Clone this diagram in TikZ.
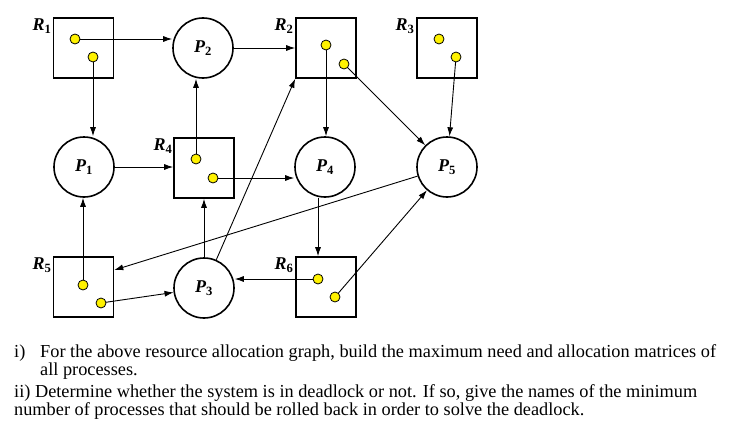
\documentclass[tikz,border=0pt]{standalone}
\usepackage{fontspec}
\setmainfont{Liberation Serif}
\usetikzlibrary{arrows.meta,backgrounds}
\begin{document}
\begin{tikzpicture}[x=1pt,y=-1pt,
 res/.style={draw,line width=1.6pt,minimum size=60pt,inner sep=0pt},
 proc/.style={draw,circle,line width=1.6pt,minimum size=60pt,inner sep=0pt,font=\fontsize{18}{18}\selectfont\bfseries\itshape},
 dot/.style={draw,circle,fill=yellow,minimum size=10pt,inner sep=0pt,line width=0.8pt},
 lab/.style={font=\fontsize{18}{18}\selectfont\bfseries\itshape,inner sep=0pt},
 e/.style={-{Latex[length=9pt,width=6pt]},line width=0.9pt},
 txt/.style={anchor=base west,inner sep=0pt,font=\fontsize{18.3}{18}\selectfont}]
\useasboundingbox (0,0) rectangle (729,439);
\node[res] (R1) at (83.5,48) {};
\node[res] (R2) at (326,48) {};
\node[res] (R3) at (447,48) {};
\node[res] (R4) at (204,168) {};
\node[res] (R5) at (83.5,287) {};
\node[res] (R6) at (326,287) {};
\node[proc] (P1) at (84,167) {P\textsubscript{\upshape 1}};
\node[proc] (P2) at (203,48) {P\textsubscript{\upshape 2}};
\node[proc] (P3) at (204,288) {P\textsubscript{\upshape 3}};
\node[proc] (P4) at (325,167) {P\textsubscript{\upshape 4}};
\node[proc] (P5) at (447,167) {P\textsubscript{\upshape 5}};
\node[lab] (L1) at (42,26) {R\textsubscript{\upshape 1}};
\node[lab] (L2) at (284,26) {R\textsubscript{\upshape 2}};
\node[lab] (L3) at (405,26) {R\textsubscript{\upshape 3}};
\node[lab] (L4) at (163,146) {R\textsubscript{\upshape 4}};
\node[lab] (L5) at (42,265) {R\textsubscript{\upshape 5}};
\node[lab] (L6) at (284,265) {R\textsubscript{\upshape 6}};
\node[dot] (d1a) at (75,39) {};
\node[dot] (d1b) at (93,57) {};
\node[dot] (d2a) at (326,45) {};
\node[dot] (d2b) at (344,64) {};
\node[dot] (d3a) at (439,39) {};
\node[dot] (d3b) at (456,57) {};
\node[dot] (d4a) at (196,159) {};
\node[dot] (d4b) at (213,178) {};
\node[dot] (d5a) at (83,285) {};
\node[dot] (d5b) at (101,303) {};
\node[dot] (d6a) at (318,279) {};
\node[dot] (d6b) at (335,297) {};
\begin{scope}[on background layer]
\draw[e] (d1a.center) -- (d1a.center -| P2.west);
\draw[e] (d1b.center) -- (d1b.center |- P1.north);
\draw[e] (P2) -- (P2 -| R2.west);
\draw[e] (d4a.center) -- (d4a.center |- P2.south);
\draw[e] (P1) -- (P1 -| R4.west);
\draw[e] (d4b.center) -- (d4b.center -| P4.west);
\draw[e] (d2a.center) -- (d2a.center |- P4.north);
\draw[e] (d2b.center) -- (P5);
\draw[e] (d3b.center) -- (P5);
\draw[e] (P3) -- (R2.south west);
\draw[e] (P5) -- (R5.east |- 0,270);
\draw[e] (d5a.center) -- (d5a.center |- P1.south);
\draw[e] (P3.north -| R4) -- (R4.south);
\draw[e] (d5b.center) -- (P3);
\draw[e] (P4.south -| d6a) -- (R6.north -| d6a);
\draw[e] (d6a.center) -- (d6a.center -| P3.east);
\draw[e] (d6b.center) -- (P5);
\end{scope}
\node[txt] (t1) at (14,357) {i)};
\node[txt] (t2) at (40,357) {For the above resource allocation graph, build the maximum need and allocation matrices of};
\node[txt] (t3) at (40,375) {all processes.};
\node[txt] (t4) at (14,397) {ii) Determine whether the system is in deadlock or not. If so, give the names of the minimum};
\node[txt] (t5) at (14,415) {number of processes that should be rolled back in order to solve the deadlock.};
\end{tikzpicture}
\end{document}
